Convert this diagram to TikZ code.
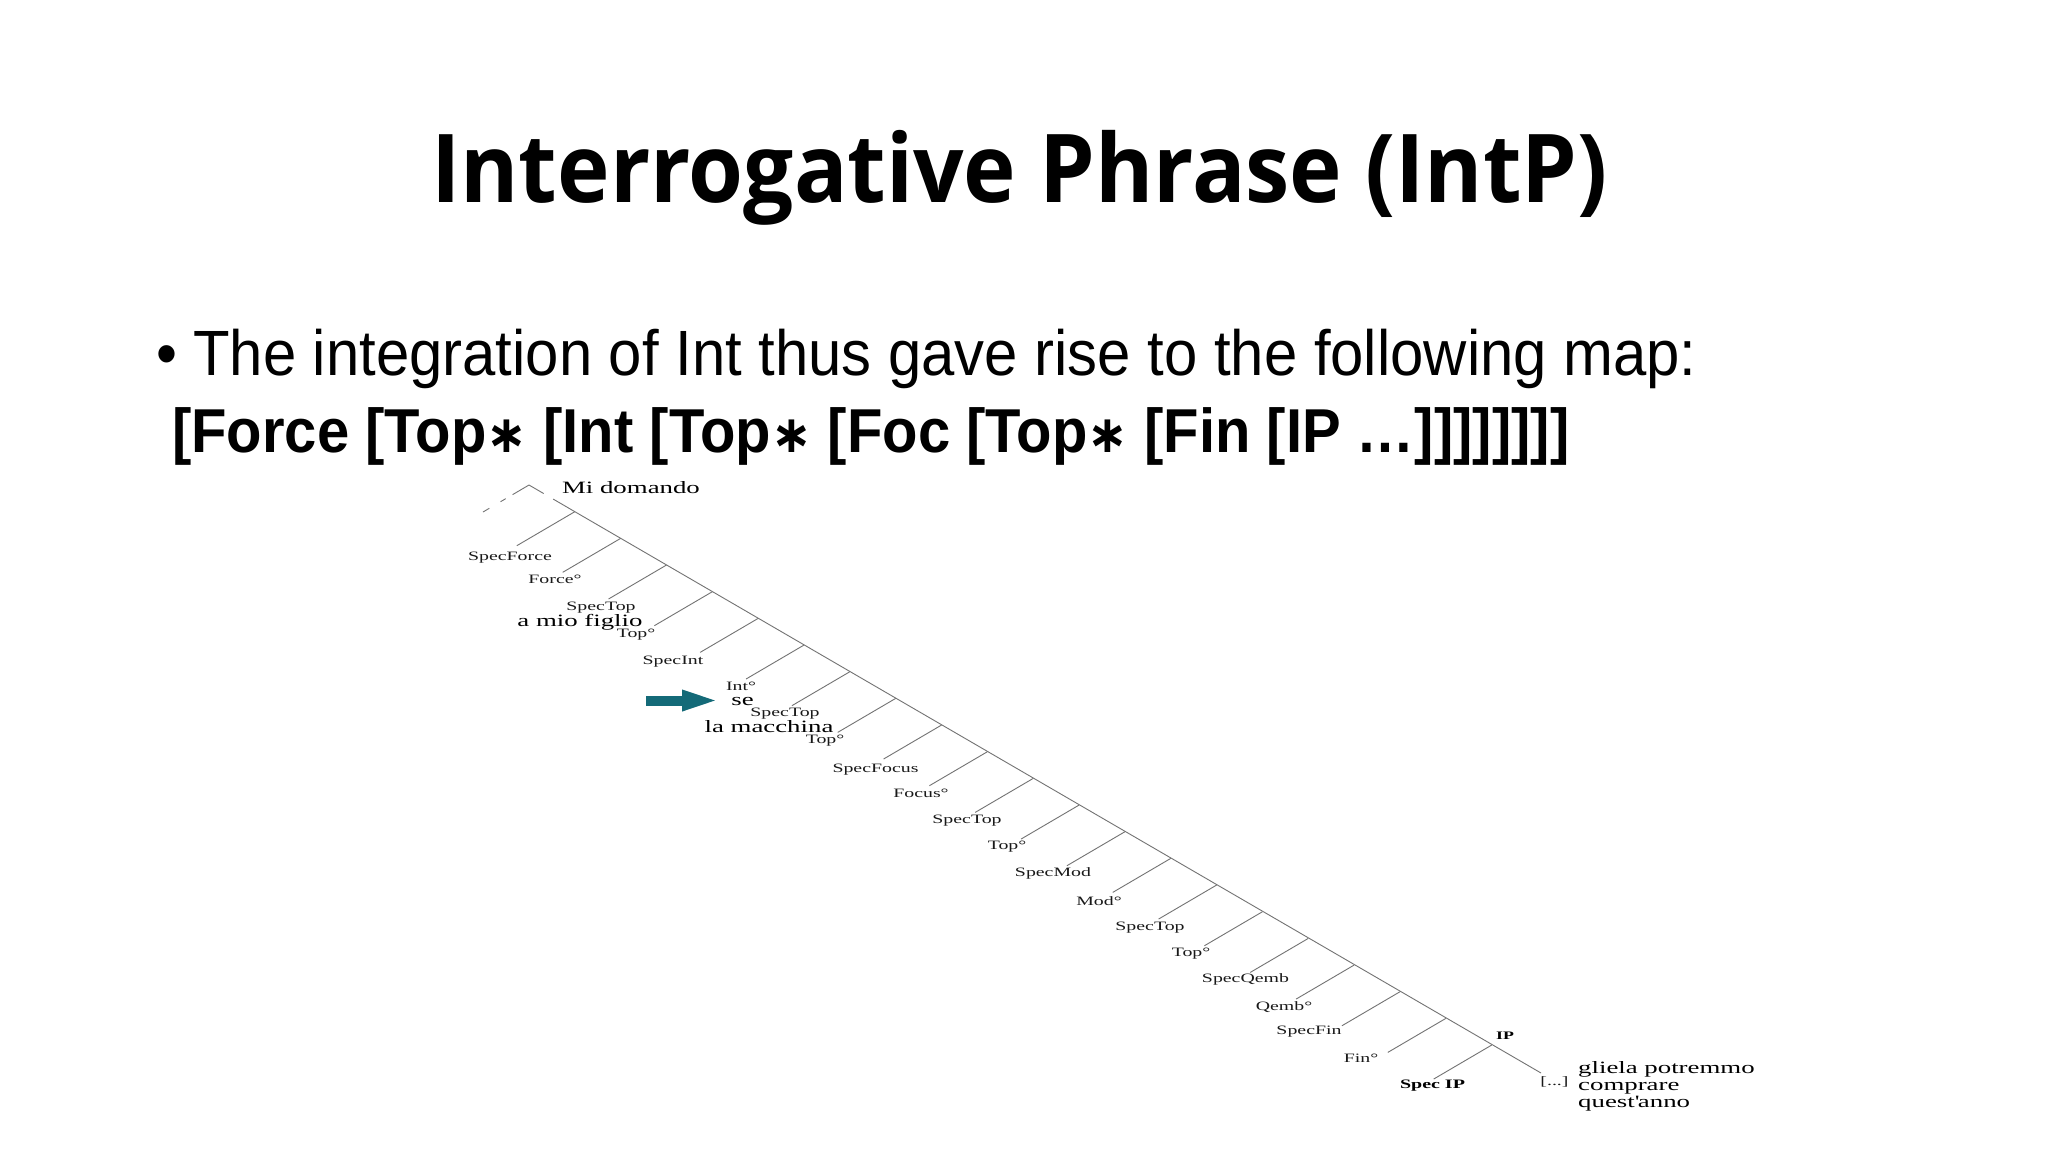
\documentclass[tikz,border=0pt]{standalone}
\usepackage{fontspec}
\setmainfont[FakeStretch=0.935]{Liberation Sans}
\newfontfamily\titlefont[FakeStretch=0.935]{Open Sans}
\newfontfamily\treefont[FakeStretch=1.55]{Liberation Serif}
\newfontfamily\symfont[FakeStretch=0.935]{DejaVu Sans}
\usetikzlibrary{arrows.meta}
\definecolor{arrowteal}{RGB}{20,106,120}
\definecolor{treegray}{RGB}{115,115,115}
\begin{document}
\begin{tikzpicture}[x=1pt,y=-1pt,
  lab/.style={font=\treefont\fontsize{12.8}{14}\selectfont, inner sep=0pt, text=black!90},
  big/.style={font=\treefont\fontsize{17.3}{17}\selectfont, inner sep=0pt, text=black},
  boldlab/.style={font=\treefont\bfseries\fontsize{12.9}{14}\selectfont, inner sep=0pt},
  branch/.style={draw=treegray, line width=0.9pt},
  plain/.style={inner sep=0pt, anchor=base west}]
\fill[white] (0,0) rectangle (2048,1152);
\useasboundingbox (0,0) rectangle (2048,1152);

% title and text
\node[plain] (title) at (431,202) {\titlefont\bfseries\fontsize{95}{100}\selectfont Interrogative Phrase (IntP)};
\node[plain] (bullet) at (156,375) {\fontsize{64}{70}\selectfont •};
\node[plain] (body) at (193,375) {\fontsize{64}{70}\selectfont The integration of Int thus gave rise to the following map:};
\node[plain] (map) at (172,452) {\bfseries\fontsize{62}{70}\selectfont [Force [Top{\symfont\bfseries\fontsize{52}{60}\selectfont ∗} [Int [Top{\symfont\bfseries\fontsize{52}{60}\selectfont ∗} [Foc [Top{\symfont\bfseries\fontsize{52}{60}\selectfont ∗} [Fin [IP …]]]]]]]]};

% tree geometry
\foreach \k in {0,...,21} {
  \coordinate (j\k) at ({529+45.84*\k},{485+26.67*\k});
  \coordinate (e\k) at ({471+45.84*\k},{519+26.67*\k});
}
\coordinate (jend) at (1541,1073);
\coordinate (dl) at (483,512);

\draw[branch, dash pattern=on 19pt off 8pt on 6pt off 13pt on 8pt off 10pt] (j0) -- (dl);
\draw[branch, dash pattern=on 17pt off 11pt on 40pt] (j0) -- (j1);
\draw[branch] (j1) -- (jend);
\foreach \k in {1,...,21} { \draw[branch] (j\k) -- (e\k); }

% labels
\node[big] (mi) at (631,488) {Mi domando};
\node[lab] (l1) at (510,558) {SpecForce};
\node[lab] (l2) at (555,579) {Force°};
\node[lab] (l3) at (601,607.5) {SpecTop};
\node[big] (w3) at (580,622) {a mio figlio};
\node[lab] (l4) at (636,634.5) {Top°};
\node[lab] (l5) at (673,662) {SpecInt};
\node[lab] (l6) at (741,686.5) {Int°};
\node[big] (w6) at (742.5,701) {se};
\node[lab] (l7) at (785,713.5) {SpecTop};
\node[big] (w7) at (769,726.5) {la macchina};
\node[lab] (l8) at (825,740.5) {Top°};
\node[lab] (l9) at (875.5,770) {SpecFocus};
\node[lab] (l10) at (921,793) {Focus°};
\node[lab] (l11) at (967,821) {SpecTop};
\node[lab] (l12) at (1007,847) {Top°};
\node[lab] (l13) at (1053,873) {SpecMod};
\node[lab] (l14) at (1099,901) {Mod°};
\node[lab] (l15) at (1150,928) {SpecTop};
\node[lab] (l16) at (1191,954) {Top°};
\node[lab] (l17) at (1245.5,979.5) {SpecQemb};
\node[lab] (l18) at (1284,1007) {Qemb°};
\node[lab] (l19) at (1309,1032) {SpecFin};
\node[lab] (l20) at (1361,1058) {Fin°};
\node[boldlab] (l21) at (1432.5,1086) {Spec IP};
\node[boldlab, font=\treefont\bfseries\fontsize{11.5}{13}\selectfont] (ip) at (1505,1036) {IP};
\node[lab] (dots) at (1554.5,1082) {[...]};
\node[big, anchor=base west] (g1) at (1578,1073.3) {gliela potremmo};
\node[big, anchor=base west] (g2) at (1578,1090) {comprare};
\node[big, anchor=base west] (g3) at (1578,1107.3) {quest\textquotesingle anno};

% arrow
\coordinate (arrS) at (646,700.5);
\coordinate (arrT) at (722,700.5);
\draw[arrowteal, line width=10pt, -{Triangle[width=18pt,length=40pt]}] (arrS) -- (arrT);
\end{tikzpicture}
\end{document}
